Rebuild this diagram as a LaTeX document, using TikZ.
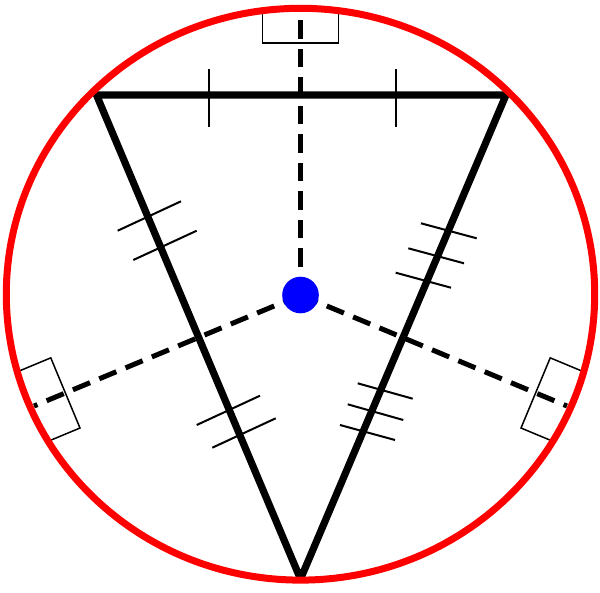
\documentclass[tikz,border=0pt]{standalone}
\usetikzlibrary{calc}
\begin{document}
\begin{tikzpicture}[x=1pt,y=-1pt,
  tri/.style={line width=7.2pt, line join=miter, miter limit=2},
  perp/.style={line width=5pt, dash pattern=on 18.5pt off 10pt},
  tickmark/.style={line width=2pt},
  rbox/.style={line width=1.5pt},
  circ/.style={draw=red, line width=7pt},
  dot/.style={circle, fill=blue, minimum size=36.6pt, inner sep=0pt}]
\useasboundingbox (0,0) rectangle (600,592);
\coordinate (C) at (300.5,295);
\coordinate (ET) at (300.5,9);
\coordinate (EL) at (34,406);
\coordinate (ER) at (567,406);
\coordinate (A) at (96.5,95);
\coordinate (B) at (506,95);
\coordinate (P) at (300.5,579);
% right-angle boxes
\foreach \e in {ET,EL,ER}{
  \coordinate (\e-in) at ($(\e)!34pt!(C)$);
  \draw[rbox] ($(\e)!38pt!90:(C)$) -- ($(\e-in)!38pt!90:(C)$) -- ($(\e-in)!38pt!-90:(C)$) -- ($(\e)!38pt!-90:(C)$);
}
% perpendicular bisectors
\draw[perp] (C) -- (ET);
\draw[perp] (C) -- (EL);
\draw[perp] (C) -- (ER);
% triangle
\draw[tri] (A) -- (B) -- (P) -- cycle;
% tick marks
\draw[tickmark] (209.3,69) -- (209.3,127);
\draw[tickmark] (395.7,69) -- (395.7,127);
\draw[tickmark] (117.7,230.7) -- (181,201.3);
\draw[tickmark] (133.3,260) -- (196.7,230.7);
\draw[tickmark] (196.7,425) -- (260,395.7);
\draw[tickmark] (212.3,447.7) -- (275.7,418.3);
\draw[tickmark] (421,223.3) -- (476.7,238.3);
\draw[tickmark] (408.3,248.3) -- (464,263.3);
\draw[tickmark] (395.7,272.7) -- (451,287.7);
\draw[tickmark] (357.7,383.3) -- (412.7,398.7);
\draw[tickmark] (347.7,404.3) -- (403.3,420);
\draw[tickmark] (340,425) -- (395,440);
% circumcircle
\draw[circ] (300.5,294.2) ellipse [x radius=294.2, y radius=285.9];
% circumcenter
\node[dot] (O) at (C) {};
\end{tikzpicture}
\end{document}
